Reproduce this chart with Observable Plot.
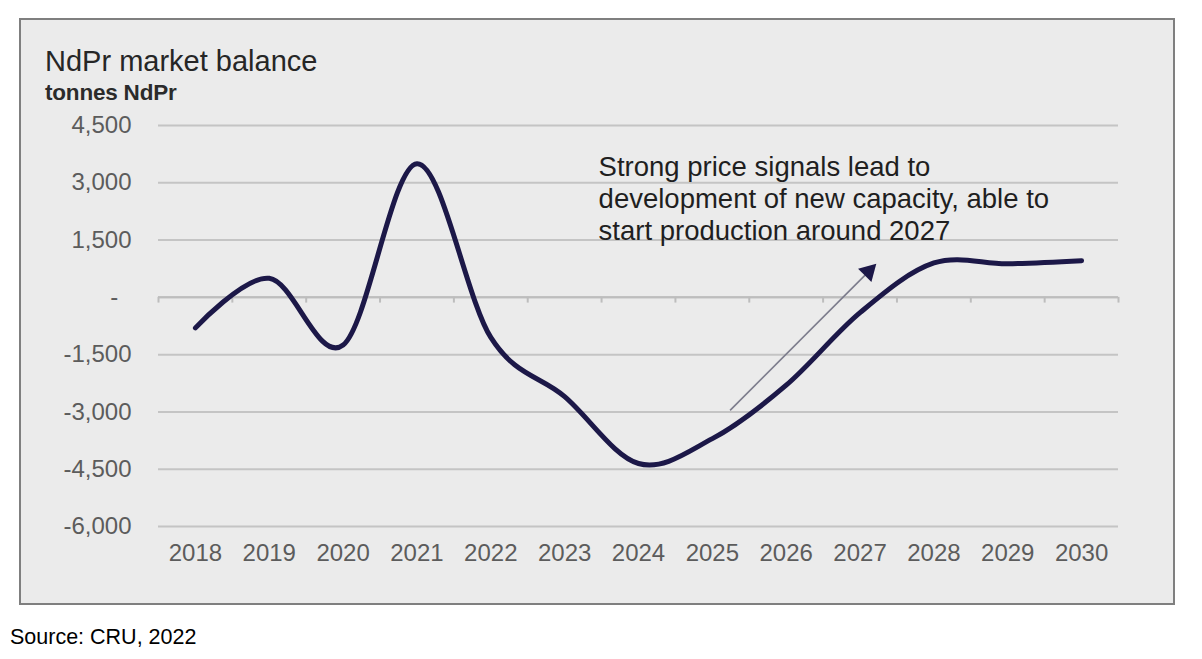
<!DOCTYPE html>
<html>
<head>
<meta charset="utf-8">
<script src="https://cdn.jsdelivr.net/npm/d3@7"></script>
<script src="https://cdn.jsdelivr.net/npm/@observablehq/plot@0.6"></script>
<style>
  html, body { margin: 0; padding: 0; background: #ffffff; }
  body { font-family: "Liberation Sans", Arial, sans-serif; }
  #wrap { position: relative; width: 1202px; height: 659px; overflow: hidden; }
  #box { position: absolute; left: 19px; top: 18px; width: 1152px; height: 583px;
         background: #ebebeb; border: 2px solid #7f7f7f; box-sizing: content-box; }
  #title { position: absolute; left: 45px; top: 47px; font-size: 29px; line-height: 29px;
           color: #262626; white-space: nowrap; }
  #subtitle { position: absolute; left: 45px; top: 82px; font-size: 22.5px; line-height: 22.5px;
              font-weight: bold; color: #2b2b2b; white-space: nowrap; letter-spacing: -0.2px; }
  #chart { position: absolute; left: 0; top: 0; }
  #source { position: absolute; left: 10px; top: 627px; font-size: 21.5px; line-height: 21.5px;
            color: #000; white-space: nowrap; }
</style>
</head>
<body>
<div id="wrap">
  <div id="box"></div>
  <div id="title">NdPr market balance</div>
  <div id="subtitle">tonnes NdPr</div>
  <div id="chart"></div>
  <div id="source">Source: CRU, 2022</div>
</div>
<script>
// ---- data ----
const years = [2018, 2019, 2020, 2021, 2022, 2023, 2024, 2025, 2026, 2027, 2028, 2029, 2030];
const balance = [-800, 500, -1250, 3500, -1050, -2600, -4350, -3700, -2300, -400, 900, 880, 960];
const yTicks = [4500, 3000, 1500, 0, -1500, -3000, -4500, -6000];
const yearBoundaries = [2017.5, 2018.5, 2019.5, 2020.5, 2021.5, 2022.5, 2023.5, 2024.5, 2025.5, 2026.5, 2027.5, 2028.5, 2029.5, 2030.5];
const annotationText = "Strong price signals lead to\ndevelopment of new capacity, able to\nstart production around 2027";
const annotationAt = [{x: 2023.46, y: 3760}];
const arrowFrom = {x: 2025.24, y: -2960};
const arrowTo = {x: 2027.17, y: 780};

const data = years.map((y, i) => ({year: y, value: balance[i]}));
const fmt = d3.formatLocale({decimal: ".", thousands: ",", grouping: [3], currency: ["", ""], minus: "-"}).format(",");

const chart = Plot.plot({
  width: 1202,
  height: 620,
  marginLeft: 158,
  marginRight: 84,
  marginTop: 125,
  marginBottom: 94,
  style: { background: "transparent", fontFamily: "'Liberation Sans', Arial, sans-serif", overflow: "visible" },
  x: { domain: [2017.5, 2030.5] },
  y: { domain: [-6000, 4500] },
  marks: [
    Plot.ruleY(yTicks, { stroke: "#c4c4c4", strokeWidth: 2 }),
    Plot.ruleY([0], { stroke: "#bdbdbd", strokeWidth: 2 }),
    Plot.ruleX(yearBoundaries, { x: d => d, y1: 0, y2: -150, stroke: "#bdbdbd", strokeWidth: 2 }),
    Plot.axisY({ ticks: yTicks, tickSize: 0, tickPadding: 27, fontSize: 24, fill: "#5c5c5c",
                 tickFormat: d => d === 0 ? "-\u2007" : fmt(d), label: null }),
    Plot.axisX({ ticks: years, tickSize: 0, tickPadding: 17, fontSize: 24, fill: "#5c5c5c",
                 tickFormat: d => String(d), label: null }),
    Plot.link([0], { x1: () => arrowFrom.x, y1: () => arrowFrom.y, x2: () => arrowTo.x, y2: () => arrowTo.y,
                     stroke: "#7c7c8c", strokeWidth: 1.6 }),
    Plot.dot([0], { x: () => arrowTo.x, y: () => arrowTo.y, symbol: "triangle", r: 7, rotate: 45,
                    dx: -4, dy: 4, fill: "#1c1848", stroke: "none" }),
    Plot.line(data, { x: "year", y: "value", curve: "cardinal", stroke: "#1c1848", strokeWidth: 5,
                      strokeLinecap: "round", strokeLinejoin: "round" }),
    Plot.text(annotationAt, { x: "x", y: "y", text: () => annotationText, textAnchor: "start",
                              lineAnchor: "top", lineHeight: 1.16, fontSize: 27.5, fill: "#1f1f1f" })
  ]
});
document.getElementById("chart").appendChild(chart);
</script>
</body>
</html>
